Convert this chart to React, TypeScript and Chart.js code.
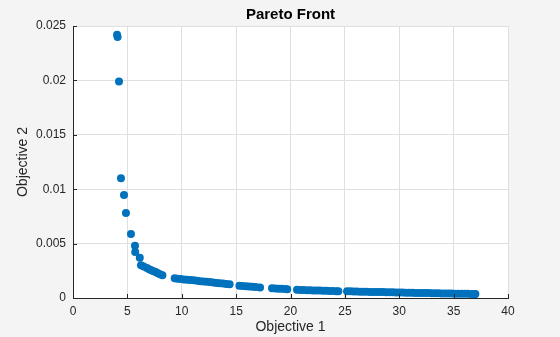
import React, { useEffect, useRef } from "react";
import { Chart, registerables } from "chart.js";

Chart.register(...registerables);

const objective1: number[] = [
  4.05, 4.1, 4.23, 4.41, 4.69, 4.87, 5.33, 5.7, 5.72, 6.14, 6.25, 6.5, 6.8, 7.0, 7.2, 7.4, 7.6, 7.8, 8.0, 8.22,
  9.35, 9.6, 9.9, 10.2, 10.5, 10.8, 11.1, 11.4, 11.7, 12.0, 12.3, 12.6, 12.9, 13.2, 13.5, 13.8, 14.1, 14.4,
  15.3, 15.6, 15.9, 16.2, 16.5, 16.8, 17.2,
  18.3, 18.6, 18.9, 19.2, 19.5, 19.7,
  20.6, 20.9, 21.2, 21.5, 21.8, 22.1, 22.4, 22.7, 23.0, 23.3, 23.6, 23.9, 24.2, 24.4,
  25.2, 25.5, 25.8, 26.1, 26.4, 26.7, 27.0, 27.3, 27.6, 27.9, 28.2, 28.5, 28.8, 29.1, 29.4, 29.7,
  30.0, 30.3, 30.6, 30.9, 31.2, 31.5, 31.8, 32.1, 32.4, 32.7, 33.0, 33.3, 33.6, 33.9, 34.2, 34.5, 34.8,
  35.1, 35.4, 35.7, 36.0, 36.3, 36.6, 36.9, 37.0,
];

const objective2: number[] = [
  0.0242, 0.024, 0.0199, 0.011, 0.00947, 0.00781, 0.00588, 0.0048, 0.00423, 0.0037, 0.003, 0.0029, 0.00275, 0.00265, 0.00255, 0.00245, 0.00238, 0.00228, 0.00218, 0.00209,
  0.00181, 0.00178, 0.00175, 0.00171, 0.00168, 0.00165, 0.00162, 0.00158, 0.00155, 0.00152, 0.00149, 0.00146, 0.00143, 0.00139, 0.00136, 0.00133, 0.00129, 0.00126,
  0.00113, 0.0011, 0.00108, 0.00106, 0.00103, 0.001, 0.00096,
  0.00089, 0.00087, 0.00086, 0.00084, 0.00082, 0.00081,
  0.00075, 0.00074, 0.00073, 0.00072, 0.00071, 0.0007, 0.00069, 0.00068, 0.00067, 0.00066, 0.00065, 0.00064, 0.00063, 0.00062,
  0.00062, 0.00061, 0.0006, 0.00059, 0.00058, 0.00058, 0.00057, 0.00056, 0.00056, 0.00055, 0.00054, 0.00054, 0.00053, 0.00052, 0.00052, 0.00051,
  0.0005, 0.0005, 0.00049, 0.00048, 0.00048, 0.00047, 0.00046, 0.00046, 0.00045, 0.00045, 0.00044, 0.00043, 0.00043, 0.00042, 0.00042, 0.00041, 0.00041,
  0.0004, 0.0004, 0.00039, 0.00039, 0.00038, 0.00037, 0.00037, 0.00036,
];

const xTicks: number[] = [0, 5, 10, 15, 20, 25, 30, 35, 40];
const yTicks: number[] = [0, 0.005, 0.01, 0.015, 0.02, 0.025];

const TITLE = "Pareto Front";
const X_LABEL = "Objective 1";
const Y_LABEL = "Objective 2";

const FONT = "'Liberation Sans', Arial, Helvetica, sans-serif";
const AXIS_COLOR = "#262626";
const GRID_COLOR = "#dfdfdf";
const MARKER_COLOR = "#0072BD";

const axesDecor = {
  id: "axesDecor",
  beforeDraw(chart: any) {
    const { ctx, chartArea } = chart;
    ctx.save();
    ctx.fillStyle = "#ffffff";
    ctx.fillRect(chartArea.left, chartArea.top, chartArea.right - chartArea.left, chartArea.bottom - chartArea.top);
    ctx.restore();
  },
  afterDatasetsDraw(chart: any) {
    const { ctx, chartArea, scales } = chart;
    const len = 4;
    ctx.save();
    ctx.strokeStyle = AXIS_COLOR;
    ctx.lineWidth = 1;
    ctx.beginPath();
    xTicks.forEach((v) => {
      const px = Math.round(scales.x.getPixelForValue(v)) + 0.5;
      ctx.moveTo(px, chartArea.bottom);
      ctx.lineTo(px, chartArea.bottom - len);
    });
    yTicks.forEach((v) => {
      const py = Math.round(scales.y.getPixelForValue(v)) + 0.5;
      ctx.moveTo(chartArea.left, py);
      ctx.lineTo(chartArea.left + len, py);
    });
    ctx.stroke();
    // title, centred over the plot area
    ctx.fillStyle = "#000000";
    ctx.font = `bold 15px ${FONT}`;
    ctx.textAlign = "center";
    ctx.textBaseline = "middle";
    ctx.fillText(TITLE, (chartArea.left + chartArea.right) / 2, 15);
    ctx.restore();
  },
};

export default function App() {
  const canvasRef = useRef<HTMLCanvasElement | null>(null);

  useEffect(() => {
    if (!canvasRef.current) return;
    const points = objective1.map((x, i) => ({ x, y: objective2[i] }));
    const chart = new Chart(canvasRef.current, {
      type: "scatter",
      data: {
        datasets: [
          {
            label: "Pareto",
            data: points,
            backgroundColor: MARKER_COLOR,
            borderColor: MARKER_COLOR,
            borderWidth: 0,
            pointRadius: 4,
            pointHoverRadius: 4,
          },
        ],
      },
      plugins: [axesDecor],
      options: {
        animation: false,
        responsive: false,
        devicePixelRatio: 1,
        events: [],
        layout: { padding: { left: 0, top: 26, right: 52, bottom: 0 } },
        plugins: {
          legend: { display: false },
          tooltip: { enabled: false },
          title: { display: false },
        },
        scales: {
          x: {
            type: "linear",
            min: 0,
            max: 40,
            afterFit(scale: any) {
              scale.height = 39;
            },
            afterBuildTicks(scale: any) {
              scale.ticks = xTicks.map((v) => ({ value: v }));
            },
            grid: { color: GRID_COLOR, drawTicks: false, lineWidth: 1 },
            border: { display: true, color: AXIS_COLOR, width: 1 },
            ticks: {
              color: AXIS_COLOR,
              padding: 6,
              font: { family: FONT, size: 12 },
              maxRotation: 0,
              callback: (v: any) => String(v),
            },
            title: {
              display: true,
              text: X_LABEL,
              color: AXIS_COLOR,
              font: { family: FONT, size: 14, lineHeight: 1.2 },
              padding: { top: 0, bottom: 1 },
            },
          },
          y: {
            type: "linear",
            min: 0,
            max: 0.025,
            afterFit(scale: any) {
              scale.width = 73;
            },
            afterBuildTicks(scale: any) {
              scale.ticks = yTicks.map((v) => ({ value: v }));
            },
            grid: { color: GRID_COLOR, drawTicks: false, lineWidth: 1 },
            border: { display: true, color: AXIS_COLOR, width: 1 },
            ticks: {
              color: AXIS_COLOR,
              padding: 7,
              font: { family: FONT, size: 12 },
              callback: (v: any) => String(Number(Number(v).toFixed(4))),
            },
            title: {
              display: true,
              text: Y_LABEL,
              color: AXIS_COLOR,
              font: { family: FONT, size: 14, lineHeight: 1.2 },
              padding: { top: 15, bottom: 0 },
            },
          },
        },
      },
    } as any);
    return () => chart.destroy();
  }, []);

  return (
    <div
      style={{
        position: "fixed",
        left: 0,
        top: 0,
        width: 560,
        height: 337,
        background: "#f4f4f4",
      }}
    >
      <canvas ref={canvasRef} width={560} height={337} style={{ display: "block" }} />
    </div>
  );
}
